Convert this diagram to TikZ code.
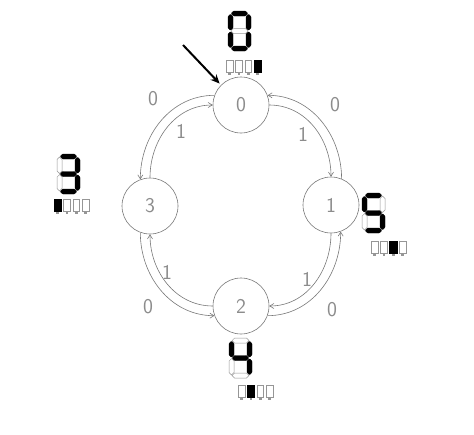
\documentclass[tikz,border=0pt]{standalone}
\usetikzlibrary{arrows.meta}
\definecolor{edgegray}{RGB}{120,120,120}
\definecolor{txtgray}{RGB}{140,140,140}
\definecolor{unlitgray}{RGB}{150,150,150}
\newcommand\hseg[2]{% x-offset-free horizontal segment at yc=#2, width #1
  (2.5+0.6,#2) -- (5+0.6,#2-2.5) -- (#1-5-0.6,#2-2.5) -- (#1-2.5-0.6,#2) -- (#1-5-0.6,#2+2.5) -- (5+0.6,#2+2.5) -- cycle}
\newcommand\vseg[3]{% vertical segment at xc=#1 from #2 to #3
  (#1,#2+0.6) -- (#1+2.5,#2+2.5+0.6) -- (#1+2.5,#3-2.5-0.6) -- (#1,#3-0.6) -- (#1-2.5,#3-2.5-0.6) -- (#1-2.5,#2+2.5+0.6) -- cycle}
% #1 position; #2..#8 styles of segments a b c d e f g
\newcommand\segdigit[8]{%
  \begin{scope}[shift={#1}]
    \path[#2] \hseg{23}{2.5};
    \path[#3] \vseg{20.5}{2.5}{20};
    \path[#4] \vseg{20.5}{20}{37.5};
    \path[#5] \hseg{23}{37.5};
    \path[#6] \vseg{2.5}{20}{37.5};
    \path[#7] \vseg{2.5}{2.5}{20};
    \path[#8] \hseg{23}{20};
  \end{scope}}
% #1 position, #2 index of filled led
\newcommand\ledrow[2]{%
  \begin{scope}[shift={#1}]
    \foreach \i in {1,...,4}{
      \fill[unlitgray] ({(\i-1)*9.3+2.2},12.5) rectangle ({(\i-1)*9.3+5},14.5);
      \ifnum\i=#2
        \filldraw[draw=black,fill=black,line width=0.5pt] ({(\i-1)*9.3},0) rectangle ({(\i-1)*9.3+7.2},12.5);
      \else
        \filldraw[draw=unlitgray,fill=white,line width=0.6pt] ({(\i-1)*9.3+0.3},0.3) rectangle ({(\i-1)*9.3+6.9},12.2);
      \fi
    }
  \end{scope}}
\begin{document}
\begin{tikzpicture}[x=1pt,y=-1pt,
  lit/.style={fill=black, draw=black, line width=0.4pt, rounded corners=0.6pt},
  unlit/.style={fill=white, draw=unlitgray, line width=0.5pt},
  state/.style={circle, draw=edgegray, line width=0.6pt, minimum size=56pt, inner sep=0pt,
    text=txtgray, font=\sffamily\fontsize{21}{21}\selectfont},
  lbl/.style={text=txtgray, font=\sffamily\fontsize{21}{21}\selectfont, inner sep=0pt},
  trans/.style={draw=edgegray, line width=0.6pt, -{Straight Barb[length=4pt,width=5pt]}}]
\useasboundingbox (0,0) rectangle (474,434);
\node[state] (s0) at (241,105) {0};
\node[state] (s1) at (331,205) {1};
\node[state] (s2) at (241,306) {2};
\node[state] (s3) at (150,206) {3};
% transitions
\draw[trans] (s0.160) to[out=180,in=90] (s3.110);
\draw[trans] (s3.90) to[out=90,in=180] (s0.180);
\draw[trans] (s1.68) to[out=90,in=0] (s0.20);
\draw[trans] (s0.0) to[out=0,in=90] (s1.90);
\draw[trans] (s2.180) to[out=180,in=270] (s3.270);
\draw[trans] (s3.250) to[out=270,in=180] (s2.200);
\draw[trans] (s1.270) to[out=270,in=0] (s2.0);
\draw[trans] (s2.340) to[out=0,in=270] (s1.290);
% labels
\node[lbl] (l1) at (153,99) {0};
\node[lbl] (l2) at (181,131) {1};
\node[lbl] (l3) at (335,105) {0};
\node[lbl] (l4) at (303,134) {1};
\node[lbl] (l5) at (167,272) {1};
\node[lbl] (l6) at (148,307) {0};
\node[lbl] (l7) at (307,279) {1};
\node[lbl] (l8) at (332,310) {0};
% initial arrow
\coordinate (start) at (183,45);
\draw[line width=2pt, -{Stealth[length=9pt,width=8pt]}, shorten >=2pt] (start) -- (s0.135);
% seven segment displays
\segdigit{(228,11)}{lit}{lit}{lit}{lit}{lit}{lit}{unlit}
\ledrow{(226,60)}{4}
\segdigit{(57,154)}{lit}{lit}{lit}{lit}{unlit}{unlit}{lit}
\ledrow{(54,199)}{1}
\segdigit{(362,193)}{lit}{unlit}{lit}{lit}{unlit}{lit}{lit}
\ledrow{(371,241)}{3}
\segdigit{(229,338)}{unlit}{lit}{lit}{unlit}{unlit}{lit}{lit}
\ledrow{(238,385)}{2}
\end{tikzpicture}
\end{document}
